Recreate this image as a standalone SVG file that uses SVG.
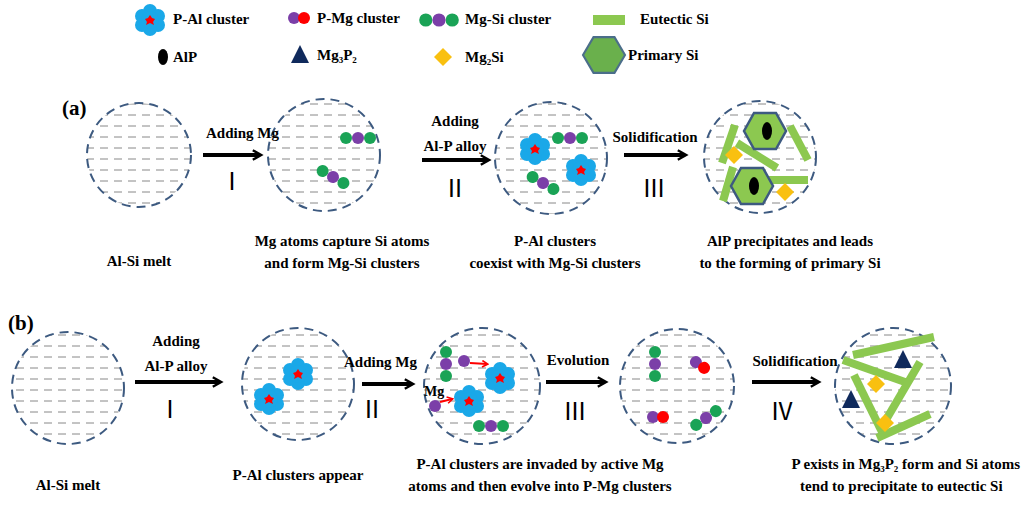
<svg xmlns="http://www.w3.org/2000/svg" xmlns:xlink="http://www.w3.org/1999/xlink" width="1024" height="511" viewBox="0 0 1024 511">
<style>
text{font-family:"Liberation Serif","Times New Roman",serif;font-weight:bold;font-size:15px;fill:#000}
.big{font-size:21px}
.rom{font-weight:normal;font-size:24px;font-family:"Liberation Serif","Noto Sans CJK SC",serif}
.mid{text-anchor:middle}
.melt{fill:url(#dash);stroke:#3d5a80;stroke-width:2;stroke-dasharray:9 6}
.arr{stroke:#000;stroke-width:4;fill:none}
.si{stroke:#8cc850;stroke-width:8}
</style>
<defs>
<pattern id="dash" width="14" height="11" patternUnits="userSpaceOnUse"><line x1="2" y1="5" x2="10" y2="5" stroke="#888" stroke-width="1"/></pattern>
<symbol id="pal" overflow="visible"><g fill="#1aa8e8"><circle cx="0" cy="-9" r="7"/><circle cx="8" cy="-4" r="7"/><circle cx="8" cy="5" r="7"/><circle cx="0" cy="9" r="7"/><circle cx="-8" cy="5" r="7"/><circle cx="-8" cy="-4" r="7"/><circle r="9"/></g><polygon points="0,-5 2,-2 5,-1 3,2 4,5 0,3 -4,5 -3,2 -5,-1 -2,-2" fill="#f00"/></symbol>
<symbol id="mgsi" overflow="visible"><circle cx="-12" r="6" fill="#1aa356"/><circle cx="12" r="6" fill="#1aa356"/><circle r="6" fill="#7b3fa8"/></symbol>
<symbol id="pmg" overflow="visible"><circle cx="-5" r="6" fill="#7b3fa8"/><circle cx="5" r="6" fill="#f00"/></symbol>
<symbol id="hex" overflow="visible"><polygon points="-21,0 -11,-18 11,-18 21,0 11,18 -11,18" fill="#8cc850" stroke="#3d5a80" stroke-width="2.5"/><ellipse cx="2" rx="5" ry="9" fill="#000"/></symbol>
<symbol id="dia" overflow="visible"><polygon points="0,-9 9,0 0,9 -9,0" fill="#f9c010"/></symbol>
<symbol id="tri" overflow="visible"><polygon points="0,-10 9,8 -9,8" fill="#102a5c"/></symbol>
<marker id="ah" viewBox="0 0 10 10" refX="7" refY="5" markerWidth="3" markerHeight="3" orient="auto"><path d="M1,1 L8,5 L1,9" fill="none" stroke="#000" stroke-width="2"/></marker>
<marker id="rh" viewBox="0 0 10 10" refX="7" refY="5" markerWidth="4" markerHeight="4" orient="auto"><path d="M1,1 L8,5 L1,9" fill="none" stroke="#f00" stroke-width="2"/></marker>
</defs>

<g id="legend">
<use href="#pal" x="150" y="20"/><text x="173" y="24">P-Al cluster</text>
<use href="#pmg" x="299" y="18"/><text x="317" y="23">P-Mg cluster</text>
<g transform="translate(439,20) scale(1.1)"><use href="#mgsi"/></g><text x="465" y="24">Mg-Si cluster</text>
<rect x="593" y="15" width="32" height="10" fill="#8cc850"/><text x="640" y="24">Eutectic Si</text>
<ellipse cx="163" cy="57" rx="5" ry="8" fill="#000"/><text x="173" y="62">AlP</text>
<use href="#tri" x="300" y="55"/><text x="317" y="60">Mg₃P₂</text>
<use href="#dia" x="443" y="57"/><text x="465" y="62">Mg₂Si</text>
<g transform="translate(604,55) scale(1.05)"><polygon points="-20,0 -10,-17 10,-17 20,0 10,17 -10,17" fill="#6ab04c" stroke="#4b6e8a" stroke-width="2"/></g><text x="628" y="60">Primary Si</text>
</g>

<g id="row-a">
<text class="big" x="62" y="115">(a)</text>
<g id="a1"><circle class="melt" cx="139" cy="155" r="52"/><text class="mid" x="139" y="266">Al-Si melt</text></g>
<g id="a2"><circle class="melt" cx="324" cy="155" r="56"/>
<use href="#mgsi" x="358" y="138"/><g transform="translate(333,177) rotate(30)"><use href="#mgsi"/></g>
<text class="mid" x="342" y="246">Mg atoms capture Si atoms</text><text class="mid" x="342" y="268">and form Mg-Si clusters</text></g>
<g id="a3"><circle class="melt" cx="551" cy="158" r="56"/>
<use href="#pal" x="535" y="149"/><use href="#pal" x="581" y="170"/><use href="#mgsi" x="570" y="138"/><g transform="translate(543,183) rotate(30)"><use href="#mgsi"/></g>
<text class="mid" x="555" y="246">P-Al clusters</text><text class="mid" x="555" y="268">coexist with Mg-Si clusters</text></g>
<g id="a4"><circle class="melt" cx="760" cy="157" r="56"/>
<line class="si" x1="735" y1="125" x2="722" y2="163"/><line class="si" x1="737" y1="143" x2="777" y2="168"/><line class="si" x1="790" y1="126" x2="808" y2="160"/><line class="si" x1="733" y1="167" x2="723" y2="201"/><line class="si" x1="768" y1="180" x2="808" y2="180"/>
<use href="#hex" x="765" y="131"/><use href="#hex" x="752" y="186"/><use href="#dia" x="734" y="155"/><use href="#dia" x="785" y="192"/>
<text class="mid" x="790" y="246">AlP precipitates and leads</text><text class="mid" x="790" y="268">to the forming of primary Si</text></g>
</g>

<g id="row-b">
<text class="big" x="8" y="330">(b)</text>
<g id="b1"><circle class="melt" cx="68" cy="388" r="56"/><text class="mid" x="68" y="490">Al-Si melt</text></g>
<g id="b2"><circle class="melt" cx="298" cy="384" r="56"/><use href="#pal" x="298" y="374"/><use href="#pal" x="269" y="399"/><text class="mid" x="298" y="480">P-Al clusters appear</text></g>
<g id="b3"><circle class="melt" cx="482" cy="386" r="58"/>
<g transform="translate(446,364) rotate(90)"><use href="#mgsi"/></g><circle cx="464" cy="361" r="6" fill="#7b3fa8"/>
<line x1="470" y1="363" x2="487" y2="364" stroke="#f00" stroke-width="2" marker-end="url(#rh)"/>
<use href="#pal" x="500" y="378"/><use href="#pal" x="469" y="401"/>
<text x="424" y="396" style="font-size:14px">Mg</text><circle cx="435" cy="406" r="6" fill="#7b3fa8"/><line x1="440" y1="402" x2="452" y2="399" stroke="#f00" stroke-width="2" marker-end="url(#rh)"/>
<use href="#mgsi" x="491" y="426"/>
<text class="mid" x="540" y="469">P-Al clusters are invaded by active Mg</text><text class="mid" x="540" y="491">atoms and then evolve into P-Mg clusters</text></g>
<g id="b4"><circle class="melt" cx="677" cy="386" r="57"/>
<g transform="translate(655,364) rotate(90)"><use href="#mgsi"/></g>
<g transform="translate(700,365) rotate(35)"><use href="#pmg"/></g><use href="#pmg" x="658" y="417"/>
<g transform="translate(706,418) rotate(-35)"><use href="#mgsi"/></g></g>
<g id="b5"><circle class="melt" cx="893" cy="386" r="58"/>
<line class="si" x1="853" y1="355" x2="934" y2="337"/><line class="si" x1="843" y1="360" x2="905" y2="382"/><line class="si" x1="854" y1="375" x2="882" y2="432"/><line class="si" x1="880" y1="430" x2="920" y2="362"/><line class="si" x1="877" y1="438" x2="930" y2="414"/>
<use href="#tri" x="903" y="360"/><use href="#tri" x="851" y="400"/><use href="#dia" x="876" y="384"/><use href="#dia" x="885" y="423"/>
<text style="text-anchor:end" x="1020" y="469">P exists in Mg₃P₂ form and Si atoms</text><text x="800" y="491">tend to precipitate to eutectic Si</text></g>
</g>

<g id="connectors">
<line class="arr" x1="203" y1="155" x2="260" y2="155" marker-end="url(#ah)"/><text x="206" y="138">Adding Mg</text><text class="rom mid" x="232" y="190">Ⅰ</text>
<line class="arr" x1="422" y1="160" x2="488" y2="160" marker-end="url(#ah)"/><text class="mid" x="455" y="126">Adding</text><text class="mid" x="455" y="151">Al-P alloy</text><text class="rom mid" x="455" y="197">Ⅱ</text>
<line class="arr" x1="624" y1="155" x2="685" y2="155" marker-end="url(#ah)"/><text class="mid" x="655" y="142">Solidification</text><text class="rom mid" x="654" y="197">Ⅲ</text>
<line class="arr" x1="135" y1="382" x2="220" y2="382" marker-end="url(#ah)"/><text class="mid" x="176" y="346">Adding</text><text class="mid" x="176" y="371">Al-P alloy</text><text class="rom mid" x="170" y="418">Ⅰ</text>
<line class="arr" x1="362" y1="384" x2="412" y2="384" marker-end="url(#ah)"/><text x="344" y="367">Adding Mg</text><text class="rom mid" x="372" y="418">Ⅱ</text>
<line class="arr" x1="546" y1="382" x2="605" y2="382" marker-end="url(#ah)"/><text class="mid" x="578" y="365">Evolution</text><text class="rom mid" x="575" y="420">Ⅲ</text>
<line class="arr" x1="752" y1="382" x2="818" y2="382" marker-end="url(#ah)"/><text class="mid" x="795" y="366">Solidification</text><text class="rom mid" x="782" y="420">Ⅳ</text>
</g>
</svg>
